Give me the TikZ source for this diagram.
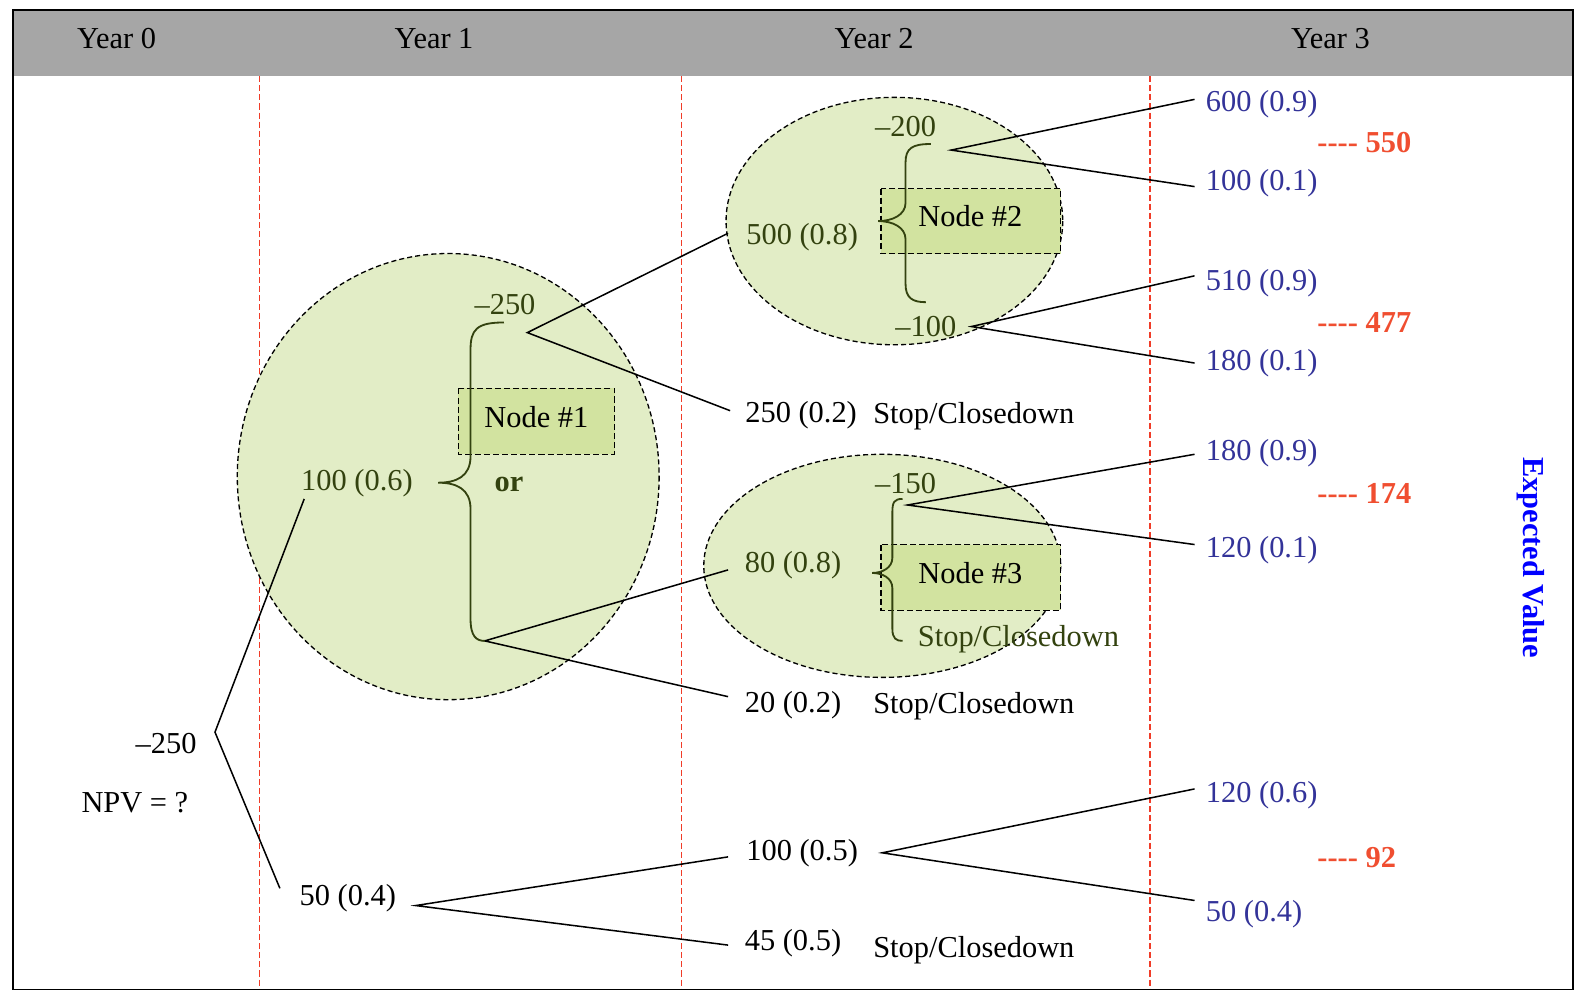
\documentclass[tikz,border=0pt]{standalone}
\usepackage{fontspec}
\setmainfont{Liberation Serif}
\begin{document}
\begin{tikzpicture}[x=1pt,y=-1pt,
  every node/.style={font=\fontsize{30}{34}\selectfont, inner sep=0pt},
  ell/.style={draw=black, dash pattern=on 5pt off 3pt, line width=1.3pt, fill=ellfill},
  box/.style={draw=black, dash pattern=on 6pt off 3pt, line width=1.5pt, fill=boxfill},
  br/.style={line width=1.5pt},
  brc/.style={line width=1.8pt, draw=olivetext},
  red/.style={draw=redline, dash pattern=on 6pt off 3pt, line width=1.3pt},
  ol/.style={text=olivetext},
  y3/.style={text=bluetext, anchor=west},
  ev/.style={text=evred, font=\fontsize{30}{34}\selectfont\bfseries},
  sc/.style={anchor=west}]
\definecolor{ellfill}{HTML}{E2EDC6}
\definecolor{boxfill}{HTML}{D2E3A0}
\definecolor{olivetext}{HTML}{33420F}
\definecolor{bluetext}{HTML}{333399}
\definecolor{evred}{HTML}{F04E30}
\definecolor{redline}{HTML}{F03C28}
\definecolor{hdr}{HTML}{A6A6A6}
\useasboundingbox (0,0) rectangle (1566,990);
\fill[white] (0,0) rectangle (1566,990);
% header
\fill[hdr] (13,10) rectangle (1551,75);
\node at (115,38) {Year 0};
\node at (428,38) {Year 1};
\node at (862,38) {Year 2};
\node at (1312,38) {Year 3};
% red dashed columns
\foreach \x in {256,672,1134} \draw[red] (\x,75) -- (\x,976);
% ellipses and boxes
\draw[ell] (442,470) ellipse [x radius=208, y radius=220];
\draw[ell] (882,218) ellipse [x radius=166, y radius=122];
\draw[ell] (870,558) ellipse [x radius=176, y radius=110];
\draw[box] (452,383) rectangle (606,448);
\draw[box] (869,186) rectangle (1046,250);
\draw[box] (869,537) rectangle (1046,602);
\node at (529,411) {Node \#1};
\node at (957,213) {Node \#2};
\node at (957,565) {Node \#3};
% coordinates
\coordinate (r0) at (212,722);
\coordinate (a1) at (300,492);
\coordinate (b1) at (276,876);
\coordinate (n1t) at (520,328);
\coordinate (n1b) at (478,632);
\coordinate (p500) at (718,230);
\coordinate (p250) at (720,405);
\coordinate (p80) at (718,562);
\coordinate (p20) at (718,687);
\coordinate (q50) at (410,893);
\coordinate (p100) at (718,845);
\coordinate (p45) at (718,932);
\coordinate (q100) at (870,841);
\coordinate (n2t) at (938,148);
\coordinate (n2b) at (958,322);
\coordinate (n3t) at (895,498);
\coordinate (y600) at (1178,98);
\coordinate (y100) at (1178,184);
\coordinate (y510) at (1178,272);
\coordinate (y180) at (1178,358);
\coordinate (y180b) at (1178,448);
\coordinate (y120) at (1178,537);
\coordinate (y120b) at (1178,778);
\coordinate (y50) at (1178,888);
% connectors
\draw[br] (a1) -- (r0) -- (b1);
\draw[br] (p500) -- (n1t) -- (p250);
\draw[br] (p80) -- (n1b) -- (p20);
\draw[br] (p100) -- (q50) -- (p45);
\draw[br] (y120b) -- (q100) -- (y50);
\draw[br] (y600) -- (n2t) -- (y100);
\draw[br] (y510) -- (n2b) -- (y180);
\draw[br] (y180b) -- (n3t) -- (y120);
% braces
\draw[brc] (497,318) .. controls (470,318) and (464,325) .. (464,345) -- (464,450)
  .. controls (464,470) and (450,476) .. (432,476)
  .. controls (450,476) and (464,482) .. (464,502) -- (464,610)
  .. controls (464,628) and (470,632) .. (478,632);
\draw[brc] (918,142) .. controls (900,142) and (893,146) .. (893,160) -- (893,200)
  .. controls (893,212) and (880,218) .. (866,218)
  .. controls (880,218) and (893,224) .. (893,236) -- (893,280)
  .. controls (893,294) and (900,298) .. (913,298);
\draw[brc] (890,492) .. controls (882,492) and (880,495) .. (880,505) -- (880,550)
  .. controls (880,560) and (870,565) .. (860,565)
  .. controls (870,565) and (880,570) .. (880,580) -- (880,620)
  .. controls (880,630) and (884,632) .. (890,632);
% texts
\node[anchor=east] (t0) at (194,733) {--250};
\node (npv) at (133,792) {NPV = ?};
\node[ol] (t100) at (352,476) {100 (0.6)};
\node (t50) at (343,886) {50 (0.4)};
\node[ol] (t250) at (498,300) {--250};
\node[ol, font=\fontsize{30}{34}\selectfont\bfseries] (or) at (502,478) {or};
\node[ol] (t500) at (791,234) {500 (0.8)};
\node (t2502) at (790,409) {250 (0.2)};
\node[sc] (s1) at (861,410) {Stop/Closedown};
\node[ol] (t80) at (782,557) {80 (0.8)};
\node (t20) at (782,695) {20 (0.2)};
\node[sc] (s2) at (861,696) {Stop/Closedown};
\node (t1005) at (791,841) {100 (0.5)};
\node (t45) at (782,930) {45 (0.5)};
\node[sc] (s3) at (861,937) {Stop/Closedown};
\node[ol] (t200) at (893,125) {--200};
\node[ol] (tm100) at (913,322) {--100};
\node[ol] (t150) at (893,477) {--150};
\node[ol,sc] (s4) at (905,630) {Stop/Closedown};
\node[y3] at (1189,103) {600 (0.9)};
\node[y3] at (1189,181) {100 (0.1)};
\node[y3] at (1189,279) {510 (0.9)};
\node[y3] at (1189,358) {180 (0.1)};
\node[y3] at (1189,447) {180 (0.9)};
\node[y3] at (1189,543) {120 (0.1)};
\node[y3] at (1189,784) {120 (0.6)};
\node[y3] at (1189,902) {50 (0.4)};
\node[ev, anchor=west] at (1299,141) {{-}{-}{-}{-} 550};
\node[ev, anchor=west] at (1299,318) {{-}{-}{-}{-} 477};
\node[ev, anchor=west] at (1299,487) {{-}{-}{-}{-} 174};
\node[ev, anchor=west] at (1299,846) {{-}{-}{-}{-} 92};
\node[text=blue, font=\fontsize{30}{34}\selectfont\bfseries, rotate=-90] at (1510,550) {Expected Value};
% frame
\draw[line width=1.5pt] (13,10) rectangle (1551,976);
\end{tikzpicture}
\end{document}
